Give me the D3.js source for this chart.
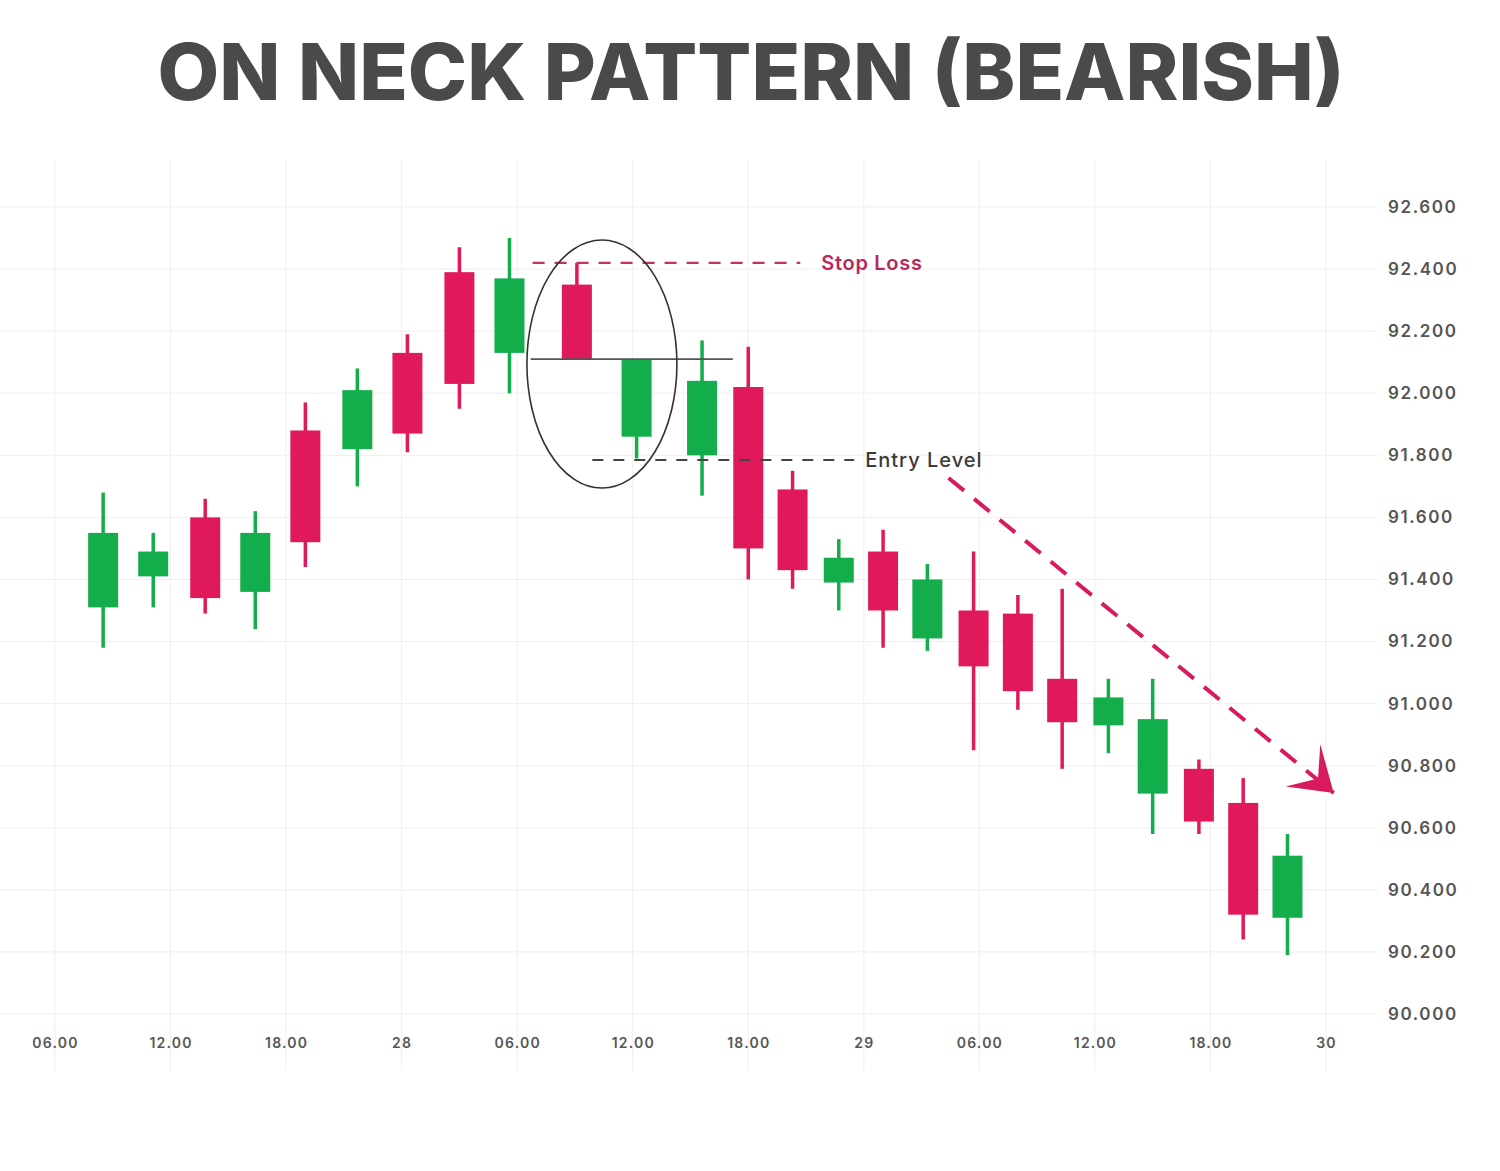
<!DOCTYPE html>
<html>
<head>
<meta charset="utf-8">
<script src="https://cdn.jsdelivr.net/npm/d3@7"></script>
<style>
  body { margin: 0; background: #fff; }
  text { font-family: Inter, "Open Sans", sans-serif; }
</style>
</head>
<body>
<svg id="chart" width="1500" height="1171"></svg>
<script>
// candle times, hours after 06.00 on the 27th
const hours  = [2.5, 5.1, 7.8, 10.4, 13.0, 15.7, 18.3, 21.0, 23.6, 27.1, 30.2, 33.6, 36.0,
                38.3, 40.7, 43.0, 45.3, 47.7, 50.0, 52.3, 54.7, 57.0, 59.4, 61.7, 64.0];
const opens  = [91.31, 91.41, 91.60, 91.36, 91.88, 91.82, 92.13, 92.39, 92.13, 92.35, 91.86, 91.80, 92.02,
                91.69, 91.39, 91.49, 91.21, 91.30, 91.29, 91.08, 90.93, 90.71, 90.79, 90.68, 90.31];
const highs  = [91.68, 91.55, 91.66, 91.62, 91.97, 92.08, 92.19, 92.47, 92.50, 92.42, 92.11, 92.17, 92.15,
                91.75, 91.53, 91.56, 91.45, 91.49, 91.35, 91.37, 91.08, 91.08, 90.82, 90.76, 90.58];
const lows   = [91.18, 91.31, 91.29, 91.24, 91.44, 91.70, 91.81, 91.95, 92.00, 92.11, 91.79, 91.67, 91.40,
                91.37, 91.30, 91.18, 91.17, 90.85, 90.98, 90.79, 90.84, 90.58, 90.58, 90.24, 90.19];
const closes = [91.55, 91.49, 91.34, 91.55, 91.52, 92.01, 91.87, 92.03, 92.37, 92.11, 92.11, 92.04, 91.50,
                91.43, 91.47, 91.30, 91.40, 91.12, 91.04, 90.94, 91.02, 90.95, 90.62, 90.32, 90.51];

const xTicks = [0, 6, 12, 18, 24, 30, 36, 42, 48, 54, 60, 66];
const xTickLabels = ["06.00", "12.00", "18.00", "28", "06.00", "12.00", "18.00", "29", "06.00", "12.00", "18.00", "30"];
const yTicks = [90.0, 90.2, 90.4, 90.6, 90.8, 91.0, 91.2, 91.4, 91.6, 91.8, 92.0, 92.2, 92.4, 92.6];

// annotation levels (price) and spans (hours)
const stopLoss = 92.42, stopSpan = [24.8, 38.7];
const neckLine = 92.11, neckSpan = [24.7, 35.2];
const entryLevel = 91.785, entrySpan = [27.9, 41.5];
const patternCenter = [28.4, 92.094];
const trendStart = [46.4, 91.727], trendEnd = [66.4, 90.712];

const candles = hours.map((h, i) => ({ h, o: opens[i], hi: highs[i], lo: lows[i], c: closes[i] }));

const svg = d3.select("#chart");
const green = "#14ad4b", red = "#e01a5a";

const x = d3.scaleLinear().domain([0, 66]).range([55, 1326]);
const y = d3.scaleLinear().domain([90, 92.6]).range([1014, 207]);

//grid
const grid = svg.append("g").attr("stroke", "#efefef").attr("stroke-width", 1);
grid.selectAll(".hg").data(yTicks).join("line")
  .attr("x1", 0).attr("x2", 1378)
  .attr("y1", d => y(d)).attr("y2", d => y(d));
grid.selectAll(".vg").data(xTicks).join("line")
  .attr("x1", d => x(d)).attr("x2", d => x(d))
  .attr("y1", 160).attr("y2", 1071);

//title
svg.append("text")
  .attr("x", 751).attr("y", 100)
  .attr("text-anchor", "middle")
  .attr("font-size", 78).attr("font-weight", 800)
  .attr("fill", "#4a4a4a")
  .attr("textLength", 1187).attr("lengthAdjust", "spacingAndGlyphs")
  .text("ON NECK PATTERN (BEARISH)");

//y axis on the right
const yAxis = svg.append("g")
  .attr("transform", "translate(1388,0)")
  .call(d3.axisRight(y).tickValues(yTicks).tickSize(0).tickPadding(0).tickFormat(d3.format(".3f")));
yAxis.select(".domain").remove();
yAxis.selectAll("text")
  .attr("font-family", "Inter, sans-serif")
  .attr("font-size", 17).attr("font-weight", 600)
  .attr("letter-spacing", 1.6)
  .attr("fill", "#555");

//x axis
const xAxis = svg.append("g")
  .attr("transform", "translate(0,1038)")
  .call(d3.axisBottom(x).tickValues(xTicks).tickSize(0).tickPadding(0)
    .tickFormat((d, i) => xTickLabels[i]));
xAxis.select(".domain").remove();
xAxis.selectAll("text")
  .attr("font-family", "Inter, sans-serif")
  .attr("font-size", 14).attr("font-weight", 600)
  .attr("letter-spacing", 1.2)
  .attr("fill", "#555");

//candles
const cg = svg.append("g");
cg.selectAll(".wick").data(candles).join("line")
  .attr("x1", d => x(d.h)).attr("x2", d => x(d.h))
  .attr("y1", d => y(d.hi)).attr("y2", d => y(d.lo))
  .attr("stroke", d => d.c >= d.o ? green : red)
  .attr("stroke-width", 3.5);
cg.selectAll(".body").data(candles).join("rect")
  .attr("x", d => x(d.h) - 15)
  .attr("width", 30)
  .attr("y", d => y(Math.max(d.o, d.c)))
  .attr("height", d => Math.max(1, y(Math.min(d.o, d.c)) - y(Math.max(d.o, d.c))))
  .attr("fill", d => d.c >= d.o ? green : red);

//stop loss
svg.append("line")
  .attr("x1", x(stopSpan[0])).attr("x2", x(stopSpan[1]))
  .attr("y1", y(stopLoss)).attr("y2", y(stopLoss))
  .attr("stroke", "#c2306b").attr("stroke-width", 2.2)
  .attr("stroke-dasharray", "12,10");
svg.append("text")
  .attr("x", x(stopSpan[1]) + 21).attr("y", y(stopLoss))
  .attr("dy", "0.35em")
  .attr("font-size", 20).attr("font-weight", 600)
  .attr("letter-spacing", 0.7)
  .attr("fill", "#b8275f")
  .text("Stop Loss");

//neck line
svg.append("line")
  .attr("x1", x(neckSpan[0])).attr("x2", x(neckSpan[1]))
  .attr("y1", y(neckLine)).attr("y2", y(neckLine))
  .attr("stroke", "#555").attr("stroke-width", 1.6);

//entry level
svg.append("line")
  .attr("x1", x(entrySpan[0])).attr("x2", x(entrySpan[1]))
  .attr("y1", y(entryLevel)).attr("y2", y(entryLevel))
  .attr("stroke", "#444").attr("stroke-width", 2)
  .attr("stroke-dasharray", "11,10");
svg.append("text")
  .attr("x", x(entrySpan[1]) + 11).attr("y", y(entryLevel))
  .attr("dy", "0.35em")
  .attr("font-size", 20).attr("font-weight", 500)
  .attr("letter-spacing", 1)
  .attr("fill", "#3a3a3a")
  .text("Entry Level");

//ellipse round the pattern
svg.append("ellipse")
  .attr("cx", x(patternCenter[0])).attr("cy", y(patternCenter[1]))
  .attr("rx", 75).attr("ry", 124)
  .attr("fill", "none").attr("stroke", "#333").attr("stroke-width", 1.6);

//trend arrow
svg.append("defs").append("marker")
  .attr("id", "head")
  .attr("markerUnits", "userSpaceOnUse")
  .attr("markerWidth", 80).attr("markerHeight", 80)
  .attr("viewBox", "-40 -30 45 60")
  .attr("refX", 0).attr("refY", 0)
  .attr("orient", "auto")
  .append("path")
  .attr("d", "M0,0 L-31,-22 L-16,-1 L-31,19 Z")
  .attr("fill", "#d81b5e");
svg.append("line")
  .attr("x1", x(trendStart[0])).attr("y1", y(trendStart[1]))
  .attr("x2", x(trendEnd[0])).attr("y2", y(trendEnd[1]))
  .attr("stroke", "#d81b5e").attr("stroke-width", 4)
  .attr("stroke-dasharray", "20,13")
  .attr("marker-end", "url(#head)");
</script>
</body>
</html>
